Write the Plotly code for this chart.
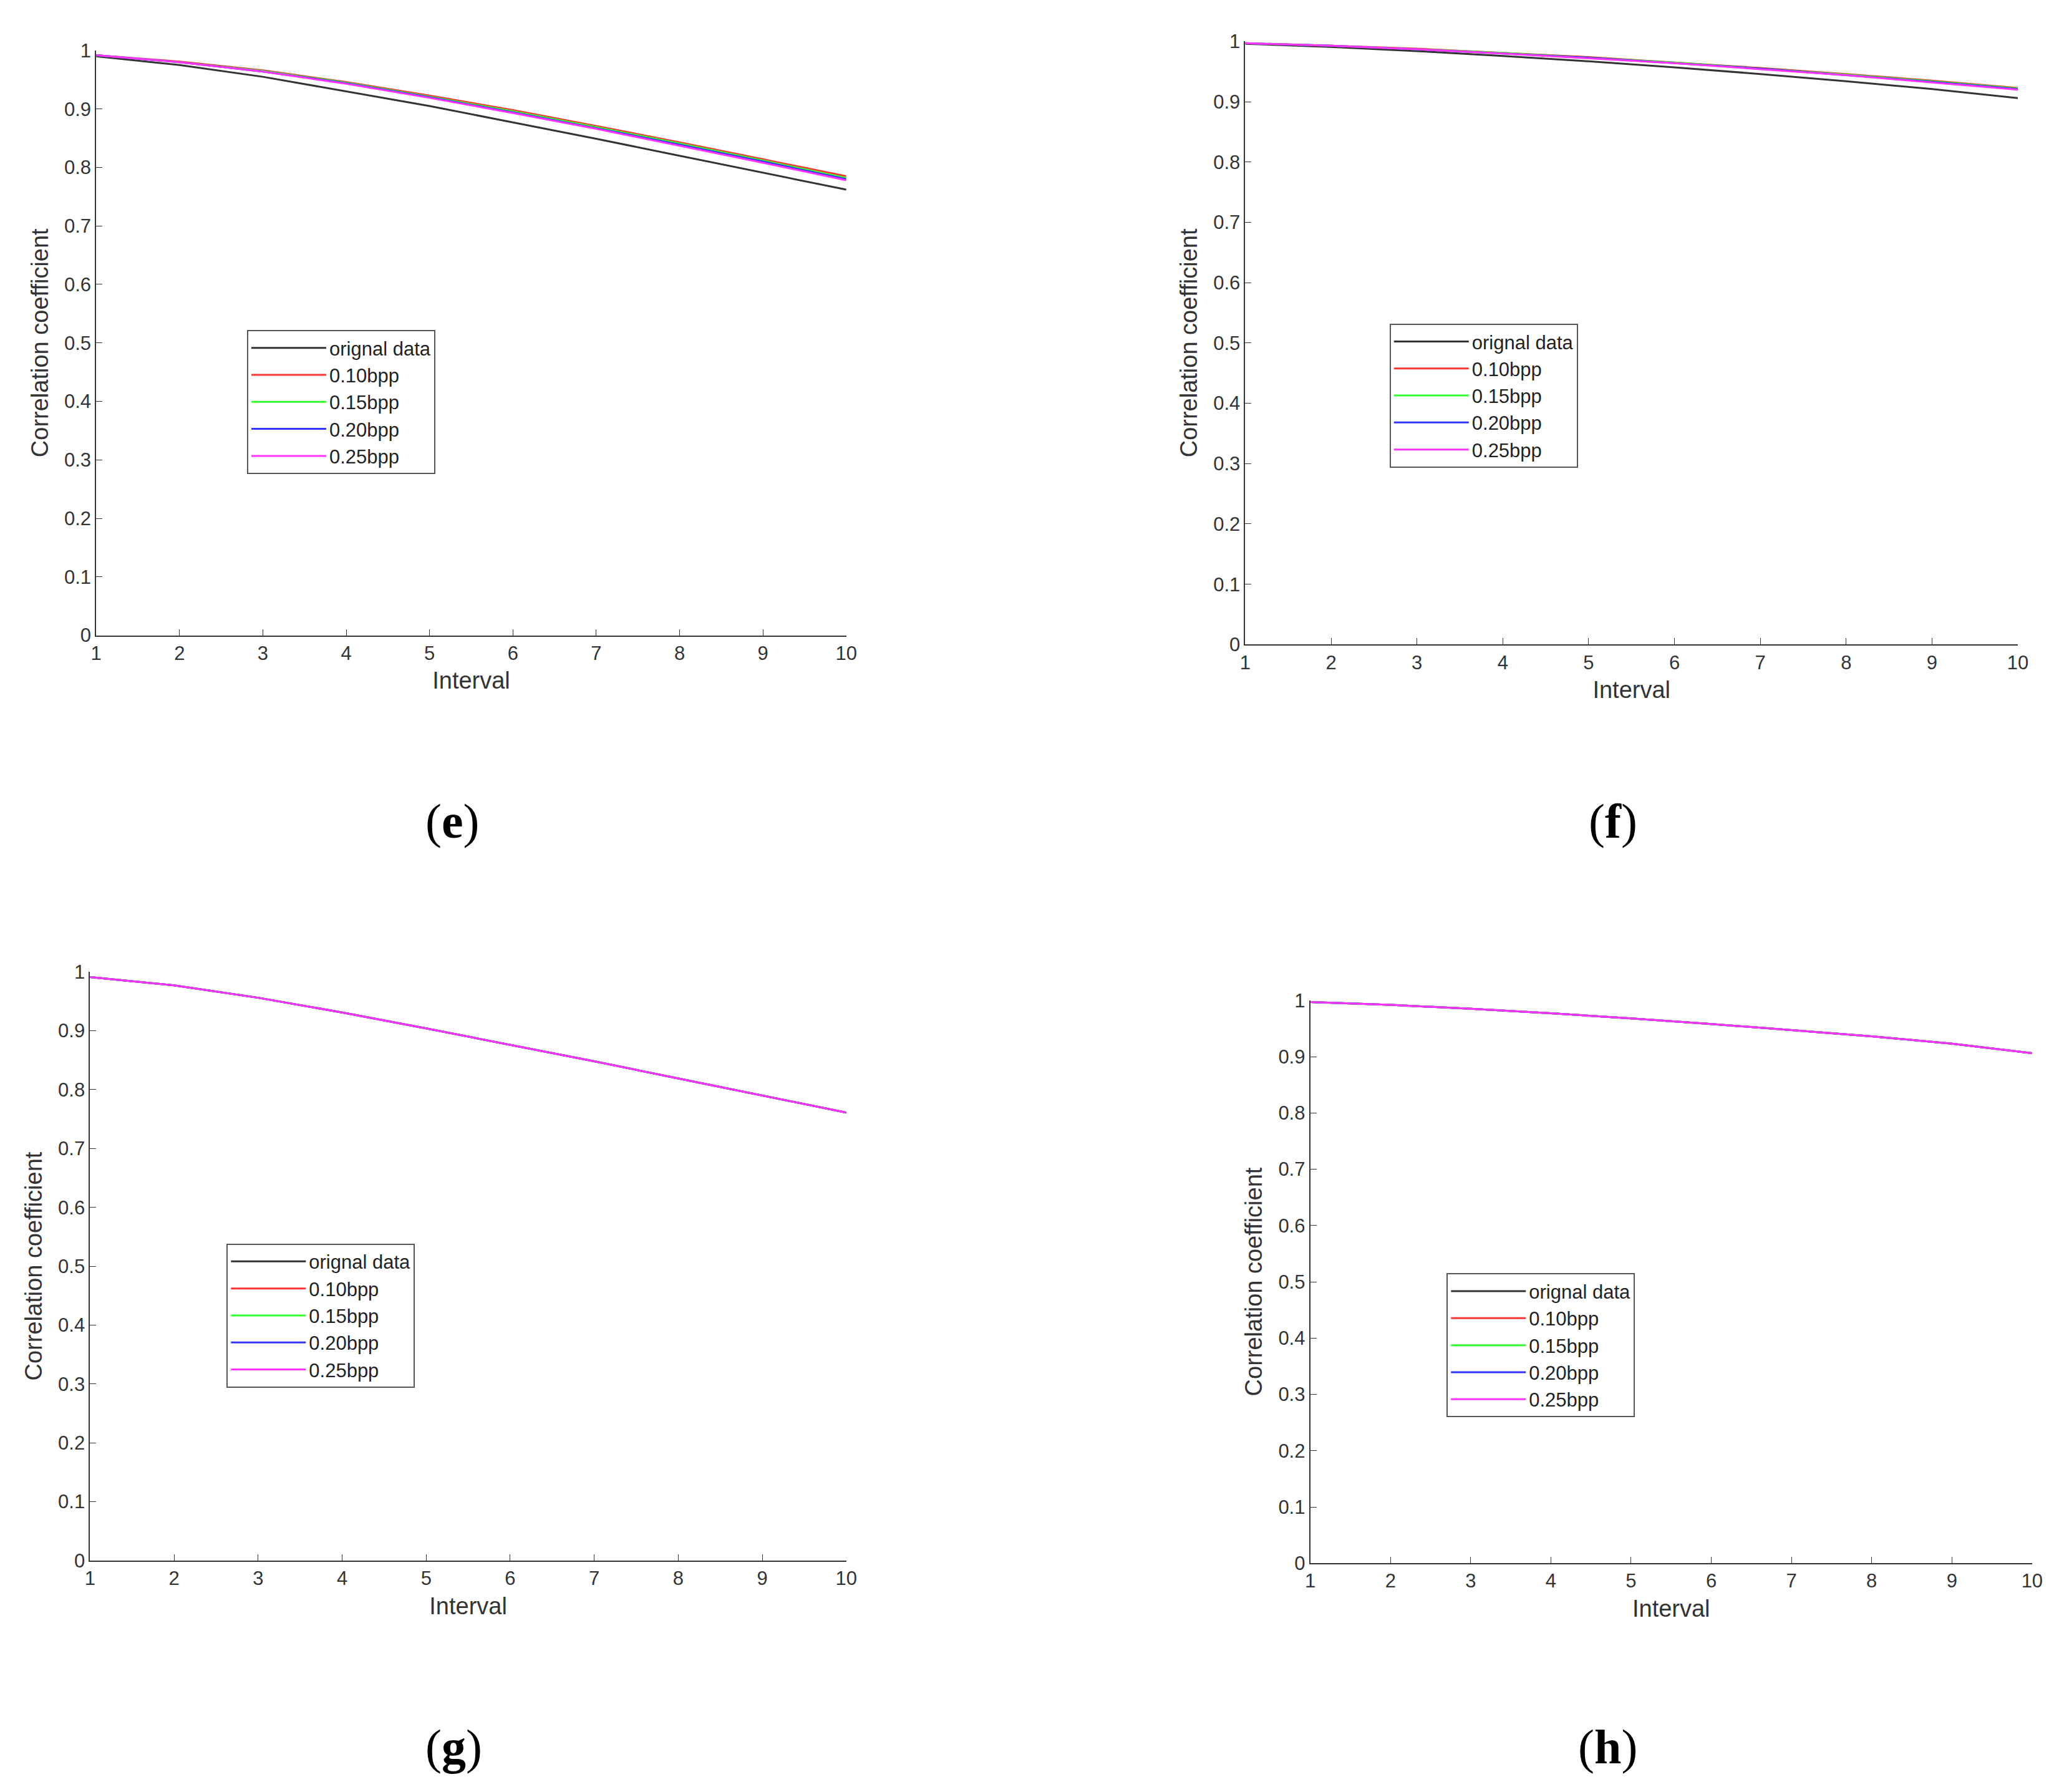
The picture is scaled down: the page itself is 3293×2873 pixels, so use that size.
import plotly.graph_objects as go

W, H = 3293, 2873
interval = list(range(1, 11))
noms = ["orignal data", "0.10bpp", "0.15bpp", "0.20bpp", "0.25bpp"]
couleurs = ["#333333", "#ff3333", "#33ff33", "#3333ff", "#ff33ff"]

e_data = [
    [0.990, 0.975, 0.955, 0.930, 0.905, 0.877, 0.849, 0.820, 0.791, 0.762],
    [0.992, 0.981, 0.966, 0.946, 0.923, 0.898, 0.871, 0.843, 0.814, 0.785],
    [0.992, 0.980, 0.965, 0.945, 0.921, 0.896, 0.869, 0.841, 0.812, 0.782],
    [0.992, 0.980, 0.964, 0.944, 0.920, 0.894, 0.867, 0.839, 0.810, 0.780],
    [0.992, 0.980, 0.964, 0.943, 0.919, 0.893, 0.866, 0.837, 0.808, 0.778],
]
f_data = [
    [0.996, 0.991, 0.984, 0.976, 0.967, 0.957, 0.946, 0.934, 0.921, 0.906],
    [0.997, 0.993, 0.988, 0.981, 0.974, 0.965, 0.956, 0.946, 0.935, 0.923],
    [0.997, 0.993, 0.987, 0.981, 0.973, 0.965, 0.955, 0.945, 0.934, 0.922],
    [0.997, 0.993, 0.987, 0.980, 0.973, 0.964, 0.955, 0.944, 0.933, 0.921],
    [0.997, 0.993, 0.987, 0.980, 0.972, 0.964, 0.954, 0.944, 0.932, 0.920],
]
g_data = [[0.991, 0.977, 0.956, 0.931, 0.904, 0.876, 0.848, 0.819, 0.790, 0.761]] * 5
h_data = [[0.997, 0.992, 0.985, 0.977, 0.968, 0.958, 0.947, 0.936, 0.923, 0.906]] * 5

y_ticks = [i / 10 for i in range(11)]
y_labels = ["0"] + ["0.%d" % i for i in range(1, 10)] + ["1"]

# domaines (x0,x1,y0,y1), légendes (x,y) et lettres (x,y), en fraction de la page
panneaux = [
    ("e", e_data, [0.0420, 0.4101], [0.6499, 0.9803], (0.1160, 0.8224), (0.2030, 0.545)),
    ("f", f_data, [0.6059, 0.9850], [0.6447, 0.9854], (0.6767, 0.8260), (0.7990, 0.545)),
    ("g", g_data, [0.0390, 0.4101], [0.1272, 0.4598], (0.1060, 0.3063), (0.2030, 0.006)),
    ("h", h_data, [0.6378, 0.9920], [0.1257, 0.4437], (0.7047, 0.2895), (0.7990, 0.006)),
]

fig = go.Figure()
police = "Liberation Sans, Arial, sans-serif"
for k, (lettre, data, dx, dy, pos_leg, pos_lab) in enumerate(panneaux):
    n = "" if k == 0 else str(k + 1)
    leg = "legend" + n
    for nom, col, serie in zip(noms, couleurs, data):
        fig.add_trace(go.Scatter(x=interval, y=serie, mode="lines", name=nom,
                                 line=dict(color=col, width=3),
                                 xaxis="x" + n, yaxis="y" + n, legend=leg))
    axe = dict(showline=True, linecolor="#333", linewidth=2, ticks="inside",
               ticklen=10, tickcolor="#333", showgrid=False, zeroline=False,
               tickfont=dict(size=31, color="#333"))
    fig.layout["xaxis" + n] = dict(axe, domain=dx, range=[1, 10], tickvals=interval,
                                   anchor="y" + n,
                                   title=dict(text="Interval", font=dict(size=38), standoff=14))
    fig.layout["yaxis" + n] = dict(axe, domain=dy, range=[0, 1], tickvals=y_ticks,
                                   ticktext=y_labels, anchor="x" + n,
                                   title=dict(text="Correlation coefficient", font=dict(size=38), standoff=14))
    fig.layout[leg] = dict(x=pos_leg[0], y=pos_leg[1], xanchor="left", yanchor="top",
                           bgcolor="white", bordercolor="#555", borderwidth=2,
                           font=dict(size=31, color="#222"), tracegroupgap=0,
                           itemwidth=120)
    fig.add_annotation(text="(<b>%s</b>)" % lettre, x=pos_lab[0], y=pos_lab[1],
                       xref="paper", yref="paper", showarrow=False,
                       font=dict(family="Liberation Serif, Times New Roman, serif", size=78, color="black"))

fig.update_layout(width=W, height=H, paper_bgcolor="white", plot_bgcolor="white",
                  margin=dict(l=0, r=0, t=0, b=0), font=dict(family=police, color="#333"))
fig.write_html("out.html")
